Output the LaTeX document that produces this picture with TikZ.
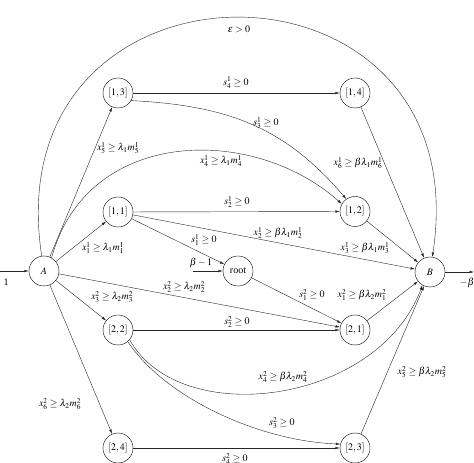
\documentclass[tikz,border=0pt]{standalone}
\usepackage{mathptmx}
\usepackage[no-math]{fontspec}
\setmainfont{Liberation Serif}
\usetikzlibrary{arrows.meta}
\tikzset{state/.style={draw, circle, minimum size=30pt, inner sep=0pt},
 flow/.style={draw=black!85, -{Latex[length=4.5pt,width=2.6pt]}},
 }

\begin{document}
\begin{tikzpicture}[x=1pt,y=1pt]
        \useasboundingbox (0,0) rectangle (474,463);
        % states
        \node[state] (A) at (44,192) {$A$};
        \node[state] (B) at (430,191) {$B$};
        \node[state] (root) at (238,192) {root};
        \node[state] (n13) at (118,370) {$[1,3]$};
        \node[state] (n14) at (355,370) {$[1,4]$};
        \node[state] (n11) at (118,251) {$[1,1]$};
        \node[state] (n12) at (355,251.5) {$[1,2]$};
        \node[state] (n22) at (118,133) {$[2,2]$};
        \node[state] (n21) at (355,133) {$[2,1]$};
        \node[state] (n24) at (118,15) {$[2,4]$};
        \node[state] (n23) at (355,15) {$[2,3]$};
        \coordinate (in) at (0,192);
        \coordinate (out) at (474,191);
        \coordinate (rootin) at (193,192);

        % outside flows
        \draw[flow] (in) -- (A);
        \draw[flow] (B) -- (out);
        \draw[flow] (rootin) -- (root);
        \node (lin) at (6,181) {1};
        \node (lout) at (467,180) {$-\beta$};
        \node (lroot) at (201,200) {$\beta - 1$};

        % big arc
        \draw[flow] (A) .. controls (-7,525) and (481,525) .. (B);
        \node (leps) at (239,434) {$\varepsilon > 0$};

        % first block
        \draw[flow] (A) -- (n13);
        \draw[flow] (A) -- (n11);
        \draw[flow] (A.60) .. controls +(35,130) and +(-90,80) .. (n12.150);
        \draw[flow] (n13) -- (n14);
        \draw[flow] (n13.-30) .. controls +(100,-5) and +(-60,70) .. (n12.125);
        \draw[flow] (n14) -- (B);
        \draw[flow] (n11) -- (n12);
        \draw[flow] (n11) -- (B);
        \draw[flow] (n11) -- (root);
        \draw[flow] (n12) -- (B);
        \node (l15) at (118,315) {$x^1_5 \geq \lambda_1 m^1_5$};
        \node (l14) at (221,302) {$x^1_4 \geq \lambda_1 m^1_4$};
        \node (l11) at (103,215) {$x^1_1 \geq \lambda_1 m^1_1$};
        \node (ls14) at (236,380.5) {$s^1_4 \geq 0$};
        \node (ls13) at (266,340) {$s^1_3 \geq 0$};
        \node (ls12) at (237,261) {$s^1_2 \geq 0$};
        \node (ls11) at (204,223) {$s^1_1 \geq 0$};
        \node (l16) at (358,300) {$x^1_6 \geq \beta\lambda_1 m^1_6$};
        \node (l12) at (278,230) {$x^1_2 \geq \beta\lambda_1 m^1_2$};
        \node (l13) at (365,215) {$x^1_3 \geq \beta\lambda_1 m^1_3$};

        % second block
        \draw[flow] (A) -- (n21);
        \draw[flow] (A) -- (n22);
        \draw[flow] (A) -- (n24);
        \draw[flow] (root) -- (n21);
        \draw[flow] (n21) -- (B);
        \draw[flow] (n22) -- (n21);
        \draw[flow] (n22.-40) .. controls +(50,-90) and +(-45,-120) .. (B.-120);
        \draw[flow] (n22.-50) .. controls +(38,-57) and +(-80,3) .. (n23.165);
        \draw[flow] (n24) -- (n23);
        \draw[flow] (n23) -- (B);
        \node (l22) at (184,176) {$x^2_2 \geq \lambda_2 m^2_2$};
        \node (l23) at (112,166) {$x^2_3 \geq \lambda_2 m^2_3$};
        \node (l26) at (60,59) {$x^2_6 \geq \lambda_2 m^2_6$};
        \node (ls21) at (312,168) {$s^2_1 \geq 0$};
        \node (ls22) at (237,141) {$s^2_2 \geq 0$};
        \node (ls23) at (282,40) {$s^2_3 \geq 0$};
        \node (ls24) at (235,4) {$s^2_4 \geq 0$};
        \node (l21) at (362,168) {$x^2_1 \geq \beta\lambda_2 m^2_1$};
        \node (l24) at (283,86) {$x^2_4 \geq \beta\lambda_2 m^2_4$};
        \node (l25) at (422,91) {$x^2_5 \geq \beta\lambda_2 m^2_5$};
    \end{tikzpicture}
\end{document}
